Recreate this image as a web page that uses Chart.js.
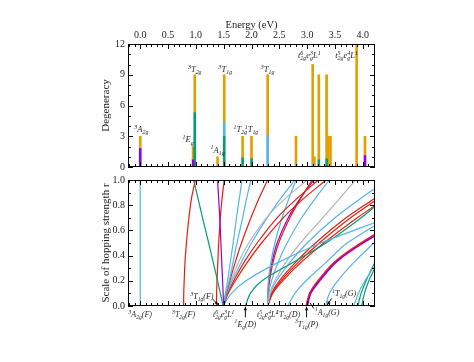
<!DOCTYPE html>
<html>
<head>
<meta charset="utf-8">
<title>Degeneracy vs energy</title>
<script src="https://cdn.jsdelivr.net/npm/chart.js@4.4.1/dist/chart.umd.min.js"></script>
<style>
  html, body { margin: 0; padding: 0; background: #fff; }
  #stage { position: relative; width: 474px; height: 362px; overflow: hidden; }
  #topChart { position: absolute; left: 0; top: 0; }
  #bottomChart { position: absolute; left: 0; top: 170px; }
</style>
</head>
<body>
<div id="stage">
  <canvas id="topChart" width="474" height="176"></canvas>
  <canvas id="bottomChart" width="474" height="192"></canvas>
</div>
<script>
// Tick labels
const energyTicks = [0, 0.5, 1, 1.5, 2, 2.5, 3, 3.5, 4];
const degTicks = [0, 3, 6, 9, 12];
const rTicks = [0, 0.2, 0.4, 0.6, 0.8, 1];

// Top panel: levels at r = 1 and their degeneracy split by colour
const barEnergy = [0.00, 0.95, 0.98, 1.39, 1.51, 1.84, 2.00, 2.29, 2.80, 3.10, 3.13, 3.21, 3.35, 3.38, 3.42, 3.89, 4.04];
const purpleDeg = [1.8, 0.7, 0, 0, 0, 0, 0, 0, 0, 0, 0, 0, 0, 0, 0, 0, 1.1];
const greenDeg  = [0, 0, 5.3, 0, 3.0, 0.9, 0.8, 0, 0, 0, 0, 0.7, 0.8, 0, 0, 0, 0];
const blueDeg   = [0, 0, 0, 0, 1.4, 0, 0, 3.1, 0.3, 0.3, 0, 0, 0, 0, 0, 0, 0];
const orangeDeg = [1.2, 1.3, 3.7, 1.0, 4.6, 2.1, 2.2, 5.9, 2.7, 9.7, 1.0, 8.3, 8.2, 3.0, 3.0, 12, 1.9];

// Bottom panel: energy (eV) of each level at these r values
const rSamples = [0, 0.1, 0.2, 0.35, 0.5, 0.7, 0.85, 1];
const lvA2gF     = [0, 0, 0, 0, 0, 0, 0, 0];
const lvT2gF     = [0.78, 0.782, 0.79, 0.805, 0.83, 0.875, 0.92, 0.99];
const lvEgDown   = [1.49, 1.44, 1.39, 1.31, 1.23, 1.12, 1.04, 0.96];
const lvA1gDown  = [1.50, 1.49, 1.48, 1.465, 1.45, 1.43, 1.41, 1.39];
const lvT1gF     = [1.37, 1.373, 1.38, 1.395, 1.41, 1.44, 1.47, 1.51];
const lvL6Blue1  = [1.49, 1.53, 1.57, 1.62, 1.67, 1.73, 1.78, 1.83];
const lvL6Blue2  = [1.49, 1.54, 1.60, 1.67, 1.74, 1.84, 1.91, 1.99];
const lvL6Red1   = [1.49, 1.55, 1.61, 1.71, 1.82, 1.99, 2.13, 2.29];
const lvL6Gray   = [1.49, 1.55, 1.63, 1.77, 1.95, 2.27, 2.60, 3.00];
const lvL6Blue3  = [1.49, 1.56, 1.65, 1.82, 2.00, 2.28, 2.52, 2.78];
const lvL6Red2   = [1.49, 1.57, 1.68, 1.87, 2.10, 2.46, 2.81, 3.20];
const lvL6Red3   = [1.49, 1.58, 1.71, 1.93, 2.18, 2.57, 2.93, 3.34];
const lvL6Blue4  = [1.49, 1.64, 1.90, 2.50, 3.25, 4.45, 5.30, 6.20];
const lvEgD      = [1.89, 1.98, 2.19, 2.76, 3.34, 3.97, 4.38, 4.80];
const lvL5Purple = [2.29, 2.295, 2.31, 2.37, 2.46, 2.66, 2.87, 3.12];
const lvL5Red1   = [2.29, 2.30, 2.325, 2.39, 2.49, 2.69, 2.88, 3.09];
const lvL5Blue1  = [2.29, 2.295, 2.305, 2.35, 2.42, 2.55, 2.67, 2.80];
const lvL5Red2   = [2.29, 2.36, 2.50, 2.80, 3.15, 3.70, 4.20, 4.70];
const lvL5Red3   = [2.29, 2.37, 2.53, 2.85, 3.22, 3.78, 4.27, 4.75];
const lvL5Red4   = [2.29, 2.38, 2.56, 2.90, 3.30, 3.90, 4.40, 4.90];
const lvL5Gray   = [2.29, 2.33, 2.42, 2.62, 2.88, 3.28, 3.58, 3.87];
const lvL5Blue3  = [2.29, 2.31, 2.36, 2.48, 2.64, 2.90, 3.14, 3.40];
const lvL5Blue4  = [2.29, 2.34, 2.45, 2.70, 3.00, 3.50, 3.95, 4.45];
const lvT2gD     = [2.65, 2.78, 2.98, 3.35, 3.72, 4.45, 5.00, 5.50];
const lvT1gP     = [2.98, 3.04, 3.19, 3.49, 3.96, 4.74, 5.40, 6.10];
const lvA1gG     = [3.00, 3.06, 3.22, 3.52, 4.00, 4.80, 5.50, 6.20];
const lvT1gG     = [3.33, 3.40, 3.55, 3.85, 4.20, 4.70, 5.10, 5.50];
const lvHiBlue   = [3.84, 3.92, 4.04, 4.26, 4.50, 4.85, 5.10, 5.40];
const lvHiGreen1 = [3.91, 3.97, 4.06, 4.22, 4.40, 4.70, 4.95, 5.20];
const lvHiGreen2 = [3.98, 4.03, 4.11, 4.27, 4.45, 4.75, 5.00, 5.25];

const SERIF = '"Liberation Serif", "DejaVu Serif", serif';
const BLUE = '#56B4E9', RED = '#E51E10', GREEN = '#009E73', PURPLE = '#9400D3', GRAY = '#B4B4B4', ORANGE = '#E69F00';
const E_MIN = -0.22, E_MAX = 4.22;

const curves = [
  [lvA2gF, BLUE], [lvT2gF, RED], [lvEgDown, GREEN], [lvA1gDown, PURPLE], [lvT1gF, RED],
  [lvL6Blue1, BLUE], [lvL6Blue2, BLUE], [lvL6Red1, RED], [lvL6Gray, GRAY], [lvL6Blue3, BLUE],
  [lvL6Red2, RED], [lvL6Red3, RED], [lvL6Blue4, BLUE], [lvEgD, GREEN],
  [lvL5Gray, GRAY], [lvL5Blue1, BLUE], [lvL5Blue3, BLUE], [lvL5Blue4, BLUE],
  [lvL5Red1, RED], [lvL5Purple, PURPLE], [lvL5Red2, RED], [lvL5Red3, RED], [lvL5Red4, RED],
  [lvT2gD, BLUE], [lvT1gP, RED], [lvA1gG, PURPLE, 2], [lvT1gG, BLUE], [lvHiBlue, BLUE],
  [lvHiGreen1, GREEN], [lvHiGreen2, GREEN]
];

// Term labels: text, energy, value on the y scale, alignment
const topTerms = [
  ['^3A_{2g}', 0.02, 3.4], ['^1E_g', 0.86, 2.4], ['^3T_{2g}', 0.98, 9.25],
  ['^1A_{1g}', 1.39, 1.4], ['^3T_{1g}', 1.53, 9.25], ['^1T_{2g}', 1.80, 3.4],
  ['^1T_{1g}', 2.00, 3.4], ['^3T_{1g}', 2.29, 9.25],
  ['t_{2g}^{6}e_g^{3}L^{1}', 3.04, 10.6], ['t_{2g}^{5}e_g^{4}L^{1}', 3.71, 10.6]
];
const bottomTerms = [
  ['^3A_{2g}(F)', 0.0, -0.087], ['^3T_{2g}(F)', 0.78, -0.087],
  ['t_{2g}^{6}e_g^{3}L^{1}', 1.50, -0.087], ['^1E_g(D)', 1.89, -0.165],
  ['t_{2g}^{5}e_g^{4}L^{1}', 2.29, -0.087], ['^1T_{2g}(D)', 2.66, -0.087],
  ['^3T_{1g}(P)', 2.99, -0.165], ['^1A_{1g}(G)', 3.14, -0.07, 'left'],
  ['^1T_{1g}(G)', 3.45, 0.08, 'left'], ['^3T_{1g}(F)', 1.11, 0.055]
];
// Pointer lines: from (E, r) to (E, r), with or without head
const bottomArrows = [
  [1.30, 0.056, 1.40, 0.01, true],
  [1.89, -0.09, 1.89, -0.005, true],
  [2.99, -0.09, 2.99, -0.005, true],
  [3.12, -0.02, 3.05, 0.026, false],
  [3.44, 0.06, 3.36, 0.008, true]
];

Chart.defaults.font.family = SERIF;
Chart.defaults.color = '#222';
Chart.defaults.animation = false;

function parseRich(str) {
  const toks = [];
  let i = 0;
  const grab = () => {
    if (str[i] === '{') {
      const j = str.indexOf('}', i);
      const s = str.slice(i + 1, j);
      i = j + 1;
      return s;
    }
    return str[i++];
  };
  while (i < str.length) {
    const c = str[i++];
    if (c === '_' || c === '^') {
      const key = c === '_' ? 'sub' : 'sup';
      let last = toks[toks.length - 1];
      if (!last || last[key]) {
        last = { base: '', sub: '', sup: '' };
        toks.push(last);
      }
      last[key] = grab();
    } else {
      toks.push({ base: c, sub: '', sup: '' });
    }
  }
  return toks;
}

// Draws text with super/subscripts, y is the baseline
function drawRich(ctx, str, x, y, size, align) {
  const toks = parseRich(str);
  const big = 'italic ' + size + 'px ' + SERIF;
  const small = 'italic ' + (size * 0.7) + 'px ' + SERIF;
  let total = 0;
  const widths = toks.map(t => {
    ctx.font = big;
    const bw = ctx.measureText(t.base).width;
    ctx.font = small;
    const sw = Math.max(ctx.measureText(t.sub).width, ctx.measureText(t.sup).width);
    total += bw + sw;
    return [bw, sw];
  });
  let cx = align === 'left' ? x : (align === 'right' ? x - total : x - total / 2);
  ctx.textAlign = 'left';
  ctx.textBaseline = 'alphabetic';
  toks.forEach((t, k) => {
    ctx.font = big;
    ctx.fillText(t.base, cx, y);
    cx += widths[k][0];
    ctx.font = small;
    if (t.sup) ctx.fillText(t.sup, cx, y - size * 0.42);
    if (t.sub) ctx.fillText(t.sub, cx, y + size * 0.25);
    cx += widths[k][1];
  });
}

function drawArrow(ctx, x1, y1, x2, y2, head) {
  ctx.beginPath();
  ctx.moveTo(x1, y1);
  ctx.lineTo(x2, y2);
  ctx.stroke();
  if (!head) return;
  const a = Math.atan2(y2 - y1, x2 - x1), L = 4, w = 0.45;
  ctx.beginPath();
  ctx.moveTo(x2, y2);
  ctx.lineTo(x2 - L * Math.cos(a - w), y2 - L * Math.sin(a - w));
  ctx.lineTo(x2 - L * Math.cos(a + w), y2 - L * Math.sin(a + w));
  ctx.closePath();
  ctx.fill();
}

// Box and inward tick marks on all four sides
function makeFrame(xStep, xEvery, yStep, yEvery) {
  return {
    id: 'frameTicks',
    afterDraw(chart) {
      const { ctx, chartArea: a, scales: { x, y } } = chart;
      ctx.save();
      ctx.strokeStyle = '#000';
      ctx.lineWidth = 1;
      ctx.beginPath();
      for (let k = Math.ceil(x.min / xStep - 1e-6); k * xStep <= x.max + 1e-9; k++) {
        const px = Math.round(x.getPixelForValue(k * xStep)) + 0.5;
        const len = k % xEvery === 0 ? 5 : 3;
        ctx.moveTo(px, a.top); ctx.lineTo(px, a.top + len);
        ctx.moveTo(px, a.bottom); ctx.lineTo(px, a.bottom - len);
      }
      for (let k = Math.ceil(y.min / yStep - 1e-6); k * yStep <= y.max + 1e-9; k++) {
        const py = Math.round(y.getPixelForValue(k * yStep)) + 0.5;
        const len = k % yEvery === 0 ? 5 : 3;
        ctx.moveTo(a.left, py); ctx.lineTo(a.left + len, py);
        ctx.moveTo(a.right, py); ctx.lineTo(a.right - len, py);
      }
      ctx.stroke();
      ctx.strokeRect(a.left + 0.5, a.top + 0.5, a.width - 1, a.height - 1);
      ctx.restore();
    }
  };
}

function makeTerms(items, arrows, size) {
  return {
    id: 'termLabels',
    afterDraw(chart) {
      const { ctx, scales: { x, y } } = chart;
      ctx.save();
      ctx.fillStyle = '#222';
      ctx.strokeStyle = '#111';
      ctx.lineWidth = 1;
      items.forEach(([text, e, v, align]) => {
        drawRich(ctx, text, x.getPixelForValue(e), y.getPixelForValue(v), size, align || 'center');
      });
      ctx.fillStyle = '#111';
      arrows.forEach(([e1, v1, e2, v2, head]) => {
        drawArrow(ctx, x.getPixelForValue(e1), y.getPixelForValue(v1),
                  x.getPixelForValue(e2), y.getPixelForValue(v2), head);
      });
      ctx.restore();
    }
  };
}

// Floating bar segments stacked in order purple, green, blue, orange
const stackOrder = [[purpleDeg, PURPLE], [greenDeg, GREEN], [blueDeg, BLUE], [orangeDeg, ORANGE]];
const barDatasets = stackOrder.map(([vals, color], s) => ({
  data: barEnergy.map((e, i) => {
    let lo = 0;
    for (let p = 0; p < s; p++) lo += stackOrder[p][0][i];
    return { x: e, y: [lo, lo + vals[i]] };
  }).filter(d => d.y[1] > d.y[0]),
  backgroundColor: color,
  borderWidth: 0,
  barThickness: 2,
  grouped: false
}));

new Chart(document.getElementById('topChart'), {
  type: 'bar',
  data: { datasets: barDatasets },
  options: {
    responsive: false,
    layout: { padding: { left: 100, right: 99, top: 16, bottom: 7 } },
    plugins: { legend: { display: false }, tooltip: { enabled: false } },
    events: [],
    scales: {
      x: {
        type: 'linear', position: 'top', min: E_MIN, max: E_MAX, offset: false,
        grid: { display: false, drawTicks: false }, border: { display: false },
        afterBuildTicks: s => { s.ticks = energyTicks.map(v => ({ value: v })); },
        afterFit: s => { s.height = 28; },
        ticks: { padding: 3, autoSkip: false, maxRotation: 0, font: { size: 10 }, callback: v => v.toFixed(1) },
        title: { display: true, text: 'Energy (eV)', padding: { top: 3, bottom: 0 }, font: { size: 10.5 } }
      },
      y: {
        min: 0, max: 12,
        grid: { display: false, drawTicks: false }, border: { display: false },
        afterBuildTicks: s => { s.ticks = degTicks.map(v => ({ value: v })); },
        afterFit: s => { s.width = 28; },
        ticks: { padding: 3, font: { size: 10 } },
        title: { display: true, text: 'Degeneracy', padding: { top: 0, bottom: 0 }, font: { size: 11 } }
      }
    }
  },
  plugins: [makeFrame(0.1, 5, 1, 3), makeTerms(topTerms, [], 8.5)]
});

new Chart(document.getElementById('bottomChart'), {
  type: 'scatter',
  data: {
    datasets: curves.map(([vals, color, width]) => ({
      data: vals.map((e, i) => ({ x: e, y: rSamples[i] })),
      showLine: true,
      borderColor: color,
      borderWidth: width || 1.2,
      pointRadius: 0,
      tension: 0.3
    }))
  },
  options: {
    responsive: false,
    layout: { padding: { left: 100, right: 99, top: 10, bottom: 56 } },
    plugins: { legend: { display: false }, tooltip: { enabled: false } },
    events: [],
    scales: {
      x: { type: 'linear', display: false, min: E_MIN, max: E_MAX },
      y: {
        min: 0, max: 1,
        grid: { display: false, drawTicks: false }, border: { display: false },
        afterBuildTicks: s => { s.ticks = rTicks.map(v => ({ value: v })); },
        afterFit: s => { s.width = 28; },
        ticks: { padding: 3, font: { size: 10 }, callback: v => v.toFixed(1) },
        title: { display: true, text: 'Scale of hopping strength r', padding: { top: 0, bottom: 0 }, font: { size: 11 } }
      }
    }
  },
  plugins: [makeFrame(0.1, 5, 0.1, 2), makeTerms(bottomTerms, bottomArrows, 8)]
});
</script>
</body>
</html>
